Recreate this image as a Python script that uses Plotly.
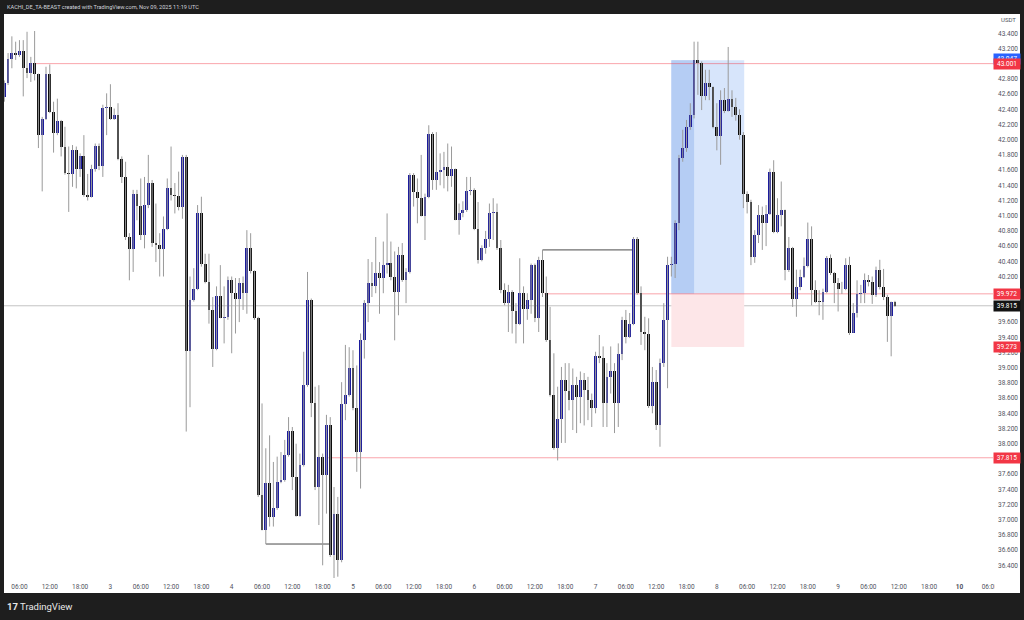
import pandas as pd
import plotly.graph_objects as go

# ---------------- data (45-minute candles, USDT) ----------------
OPEN = [42.56, 42.74, 43.06, 43.14, 43.12, 43.17, 42.94, 42.88, 43.01, 42.87,
        42.06, 42.27, 42.87, 42.37, 42.09, 42.24, 41.91, 41.56, 41.55, 41.87,
        41.62, 41.78, 41.27, 41.25, 41.62, 41.92, 41.65, 42.42, 42.43, 42.27,
        42.32, 41.75, 41.51, 40.72, 40.56, 41.28, 41.13, 40.75, 41.14, 41.43,
        40.64, 40.62, 40.56, 40.83, 41.36, 41.27, 41.26, 41.11, 41.77, 39.22,
        39.89, 40.04, 41.03, 40.37, 40.13, 39.76, 39.25, 39.94, 39.66, 39.67,
        40.16, 39.98, 39.90, 40.11, 39.98, 40.57, 40.27, 39.66, 37.32, 36.87,
        37.48, 37.04, 37.16, 37.50, 37.52, 37.85, 38.17, 37.56, 37.05, 37.72,
        38.77, 39.89, 38.53, 37.43, 37.83, 37.59, 38.24, 36.53, 37.08, 36.47,
        38.52, 38.64, 38.99, 38.47, 37.89, 39.36, 39.85, 40.11, 40.07, 40.25,
        40.18, 40.35, 40.38, 40.20, 39.99, 40.48, 40.15, 40.26, 41.53, 41.31,
        41.23, 41.00, 41.25, 42.08, 41.47, 41.57, 41.60, 41.64, 41.52, 41.61,
        40.95, 41.04, 41.08, 41.32, 41.34, 40.83, 40.42, 40.57, 40.70, 41.03,
        41.05, 40.57, 40.02, 39.85, 40.00, 39.74, 39.58, 39.98, 39.77, 39.89,
        40.35, 39.65, 40.42, 39.98, 39.36, 38.64, 37.94, 38.32, 38.84, 38.70,
        38.57, 38.77, 38.62, 38.84, 38.71, 38.57, 38.47, 39.15, 39.13, 38.54,
        38.88, 38.96, 38.53, 39.18, 39.63, 39.41, 39.58, 40.70, 39.98, 39.47,
        39.45, 38.49, 38.81, 38.25, 39.06, 39.63, 40.35, 40.37, 40.90, 41.76,
        41.89, 42.17, 42.33, 43.05, 43.01, 42.57, 42.75, 42.69, 42.17, 42.05,
        42.52, 42.38, 42.54, 42.43, 42.33, 42.06, 41.29, 41.18, 40.46, 40.75,
        41.01, 40.90, 41.02, 41.57, 40.79, 41.01, 41.07, 40.28, 40.57, 39.91,
        40.06, 40.20, 40.34, 40.69, 40.02, 39.87, 39.86, 40.00, 40.45, 40.24,
        40.11, 40.04, 40.03, 40.35, 39.46, 39.72, 39.97, 39.98, 40.15, 40.13,
        39.96, 40.28, 40.06, 39.93, 39.68, 39.86]
HIGH = [42.78, 43.14, 43.36, 43.29, 43.31, 43.31, 43.42, 43.09, 43.43, 42.87,
        42.30, 42.96, 42.99, 42.50, 42.54, 42.26, 42.17, 41.91, 41.93, 41.91,
        41.82, 42.06, 41.55, 41.67, 41.95, 41.95, 42.46, 42.61, 42.73, 42.41,
        42.48, 41.78, 41.71, 40.77, 41.34, 41.34, 41.49, 41.51, 41.80, 41.47,
        41.16, 40.77, 40.99, 41.49, 41.91, 41.43, 41.58, 41.80, 41.80, 40.20,
        40.31, 41.14, 41.25, 40.50, 40.50, 39.93, 40.07, 40.35, 40.07, 40.20,
        40.20, 40.18, 40.18, 40.20, 40.81, 40.77, 40.28, 39.67, 38.53, 37.94,
        38.11, 37.76, 37.83, 37.89, 38.05, 38.35, 38.22, 38.00, 37.87, 39.21,
        40.26, 39.91, 38.75, 38.77, 37.87, 38.38, 38.35, 37.43, 37.30, 38.81,
        39.30, 39.27, 39.23, 39.03, 39.45, 39.89, 40.43, 40.39, 40.72, 40.39,
        40.66, 41.03, 40.66, 40.53, 40.59, 40.64, 40.31, 41.56, 41.56, 41.49,
        41.80, 41.29, 42.19, 42.10, 42.10, 41.82, 41.84, 41.95, 41.91, 41.62,
        41.16, 41.19, 41.51, 41.51, 41.36, 41.18, 40.61, 40.80, 41.16, 41.23,
        41.16, 40.68, 40.11, 40.09, 40.02, 39.85, 40.44, 40.07, 39.98, 40.37,
        40.37, 40.46, 40.55, 40.20, 39.80, 39.19, 38.75, 39.01, 39.06, 39.06,
        38.99, 38.88, 38.95, 38.93, 38.88, 38.66, 39.21, 39.43, 39.28, 39.06,
        39.28, 39.06, 39.32, 39.67, 39.76, 39.72, 40.72, 40.72, 40.07, 39.67,
        39.65, 39.01, 38.97, 39.12, 39.85, 40.46, 40.46, 40.94, 41.80, 42.13,
        42.26, 42.48, 43.29, 43.29, 43.03, 42.92, 42.92, 42.70, 42.48, 42.65,
        42.68, 43.22, 42.65, 42.55, 42.40, 42.10, 41.32, 41.21, 40.81, 41.14,
        41.12, 41.14, 41.62, 41.73, 41.23, 41.45, 41.08, 40.72, 40.59, 40.29,
        40.29, 40.45, 40.91, 40.86, 40.15, 40.02, 40.04, 40.47, 40.49, 40.26,
        40.18, 40.13, 40.44, 40.46, 39.85, 40.15, 40.09, 40.24, 40.22, 40.20,
        40.33, 40.42, 40.30, 39.96, 39.87, 39.88]
LOW = [42.50, 42.72, 42.94, 43.05, 43.09, 42.57, 42.81, 42.76, 42.78, 41.89,
       41.32, 42.26, 42.35, 41.83, 42.06, 41.78, 41.54, 41.05, 41.38, 41.36,
       41.51, 41.25, 41.20, 41.24, 41.58, 41.60, 41.51, 42.06, 42.26, 42.26,
       41.73, 41.43, 40.68, 40.15, 40.26, 40.94, 40.68, 40.57, 41.10, 40.59,
       40.39, 40.20, 40.20, 40.81, 41.20, 41.03, 41.07, 40.96, 38.16, 38.48,
       39.87, 40.02, 40.33, 40.11, 39.58, 39.01, 39.23, 39.65, 39.32, 39.63,
       39.19, 39.45, 39.60, 39.76, 39.71, 40.24, 39.63, 37.30, 36.86, 36.68,
       36.91, 36.91, 37.13, 37.48, 37.50, 37.83, 37.39, 37.04, 37.04, 37.70,
       38.75, 38.35, 37.39, 36.93, 36.40, 37.08, 36.51, 36.20, 36.25, 36.44,
       38.31, 38.62, 38.44, 37.63, 37.41, 39.12, 39.60, 39.93, 39.98, 39.71,
       39.98, 40.24, 40.15, 39.36, 39.69, 40.13, 39.85, 40.24, 41.12, 40.90,
       40.99, 40.68, 41.23, 41.34, 41.34, 41.40, 41.36, 41.32, 41.38, 40.94,
       40.75, 40.98, 41.05, 41.27, 40.81, 40.37, 40.40, 40.50, 40.59, 40.68,
       40.55, 39.98, 39.82, 39.47, 39.45, 39.32, 39.56, 39.32, 39.63, 39.71,
       39.60, 39.47, 39.93, 39.34, 38.62, 37.92, 37.78, 38.01, 38.01, 38.44,
       38.18, 38.14, 38.27, 38.24, 38.31, 38.22, 38.40, 39.06, 38.22, 38.22,
       38.66, 38.14, 38.22, 39.10, 39.32, 39.39, 39.56, 39.96, 39.30, 39.23,
       38.47, 38.40, 38.18, 37.96, 39.01, 38.73, 40.20, 40.18, 40.81, 41.71,
       41.84, 42.13, 42.28, 42.59, 42.39, 42.52, 42.52, 42.15, 41.86, 41.67,
       42.35, 42.37, 42.30, 42.25, 42.00, 41.10, 41.03, 40.35, 40.38, 40.64,
       40.55, 40.60, 41.01, 40.77, 40.77, 40.86, 40.15, 40.26, 39.80, 39.67,
       40.02, 40.18, 40.32, 39.82, 39.85, 39.69, 39.63, 39.98, 40.22, 39.85,
       39.74, 39.97, 40.02, 39.43, 39.46, 39.66, 39.85, 39.85, 40.07, 39.84,
       39.93, 40.03, 39.89, 39.34, 39.15, 39.80]
CLOSE = [42.74, 43.06, 43.14, 43.12, 43.17, 42.94, 42.88, 43.01, 42.87, 42.06,
         42.27, 42.87, 42.37, 42.09, 42.24, 41.91, 41.56, 41.55, 41.87, 41.62,
         41.78, 41.27, 41.25, 41.62, 41.92, 41.65, 42.42, 42.43, 42.27, 42.32,
         41.75, 41.51, 40.72, 40.56, 41.28, 41.13, 40.75, 41.14, 41.43, 40.64,
         40.62, 40.56, 40.83, 41.36, 41.27, 41.26, 41.11, 41.77, 39.22, 39.89,
         40.04, 41.03, 40.37, 40.13, 39.76, 39.25, 39.94, 39.66, 39.67, 40.16,
         39.98, 39.90, 40.11, 39.98, 40.57, 40.27, 39.66, 37.32, 36.87, 37.48,
         37.04, 37.16, 37.50, 37.52, 37.85, 38.17, 37.56, 37.05, 37.72, 38.77,
         39.89, 38.53, 37.43, 37.83, 37.59, 38.24, 36.53, 37.08, 36.47, 38.52,
         38.64, 38.99, 38.47, 37.89, 39.36, 39.85, 40.11, 40.07, 40.25, 40.18,
         40.35, 40.38, 40.20, 39.99, 40.48, 40.15, 40.26, 41.53, 41.31, 41.23,
         41.00, 41.25, 42.08, 41.47, 41.57, 41.60, 41.64, 41.52, 41.61, 40.95,
         41.04, 41.08, 41.32, 41.34, 40.83, 40.42, 40.57, 40.70, 41.03, 41.05,
         40.57, 40.02, 39.85, 40.00, 39.74, 39.58, 39.98, 39.77, 39.89, 40.35,
         39.65, 40.42, 39.98, 39.36, 38.64, 37.94, 38.32, 38.84, 38.70, 38.57,
         38.77, 38.62, 38.84, 38.71, 38.57, 38.47, 39.15, 39.13, 38.54, 38.88,
         38.96, 38.53, 39.18, 39.63, 39.41, 39.58, 40.70, 39.98, 39.47, 39.45,
         38.49, 38.81, 38.25, 39.06, 39.63, 40.35, 40.37, 40.90, 41.76, 41.89,
         42.17, 42.33, 43.05, 43.01, 42.57, 42.75, 42.69, 42.17, 42.05, 42.52,
         42.38, 42.54, 42.43, 42.33, 42.06, 41.29, 41.18, 40.46, 40.75, 41.01,
         40.90, 41.02, 41.57, 40.79, 41.01, 41.07, 40.28, 40.57, 39.91, 40.06,
         40.20, 40.34, 40.69, 40.02, 39.87, 39.86, 40.00, 40.45, 40.24, 40.11,
         40.04, 40.03, 40.35, 39.46, 39.72, 39.97, 39.98, 40.15, 40.13, 39.96,
         40.28, 40.06, 39.93, 39.68, 39.86, 39.815]

FIRST_CANDLE = "2025-11-02 03:00"
TIMES = pd.date_range(FIRST_CANDLE, periods=len(OPEN), freq="45min")

X_TICK_VALS = ["2025-11-02 06:00", "2025-11-02 12:00", "2025-11-02 18:00",
               "2025-11-03 00:00", "2025-11-03 06:00", "2025-11-03 12:00", "2025-11-03 18:00",
               "2025-11-04 00:00", "2025-11-04 06:00", "2025-11-04 12:00", "2025-11-04 18:00",
               "2025-11-05 00:00", "2025-11-05 06:00", "2025-11-05 12:00", "2025-11-05 18:00",
               "2025-11-06 00:00", "2025-11-06 06:00", "2025-11-06 12:00", "2025-11-06 18:00",
               "2025-11-07 00:00", "2025-11-07 06:00", "2025-11-07 12:00", "2025-11-07 18:00",
               "2025-11-08 00:00", "2025-11-08 06:00", "2025-11-08 12:00", "2025-11-08 18:00",
               "2025-11-09 00:00", "2025-11-09 06:00", "2025-11-09 12:00", "2025-11-09 18:00",
               "2025-11-10 00:00", "2025-11-10 06:00"]
X_TICK_TEXT = ["06:00", "12:00", "18:00",
               "3", "06:00", "12:00", "18:00",
               "4", "06:00", "12:00", "18:00",
               "5", "06:00", "12:00", "18:00",
               "6", "06:00", "12:00", "18:00",
               "7", "06:00", "12:00", "18:00",
               "8", "06:00", "12:00", "18:00",
               "9", "06:00", "12:00", "18:00",
               "<b>10</b>", "06:00"]
Y_TICK_VALS = [36.4, 36.6, 36.8, 37.0, 37.2, 37.4, 37.6, 37.8, 38.0, 38.2, 38.4, 38.6,
               38.8, 39.0, 39.2, 39.4, 39.6, 39.8, 40.0, 40.2, 40.4, 40.6, 40.8, 41.0,
               41.2, 41.4, 41.6, 41.8, 42.0, 42.2, 42.4, 42.6, 42.8, 43.0, 43.2, 43.4]
Y_TICK_TEXT = ["36.400", "36.600", "36.800", "37.000", "37.200", "37.400", "37.600", "37.800",
               "38.000", "38.200", "38.400", "38.600", "38.800", "39.000", "39.200", "39.400",
               "39.600", "39.800", "40.000", "40.200", "40.400", "40.600", "40.800", "41.000",
               "41.200", "41.400", "41.600", "41.800", "42.000", "42.200", "42.400", "42.600",
               "42.800", "43.000", "43.200", "43.400"]

# horizontal levels drawn on the chart (price, first candle index)
LEVEL_PRICES = [43.001, 39.972, 37.815]
LEVEL_START = [8, 143, 86]
LAST_PRICE = 39.815
# long-position tool
POS_TARGET, POS_ENTRY, POS_STOP = 43.047, 39.972, 39.273
POS_START, POS_SPLIT, POS_END = 176, 182, 195
# swing brackets: (price, from candle, to candle)
BRACKETS = [(36.68, 69, 86), (40.55, 142, 166)]

BLUE = "#1c1c9c"
BLACK = "#0a0a0a"
WICK = "#9a9a9a"
RED = "#f23645"
LEVEL_COLOR = "rgba(242,54,69,0.45)"

# ---------------- figure ----------------
fig = go.Figure()

wx, wy = [], []
for t, lo, hi in zip(TIMES, LOW, HIGH):
    wx += [t, t, None]
    wy += [lo, hi, None]
fig.add_trace(go.Scatter(x=wx, y=wy, mode="lines", line=dict(color=WICK, width=1),
                         hoverinfo="skip", showlegend=False))

base = [min(o, c) for o, c in zip(OPEN, CLOSE)]
height = [max(abs(c - o), 0.012) for o, c in zip(OPEN, CLOSE)]
colors = [BLUE if c >= o else BLACK for o, c in zip(OPEN, CLOSE)]
fig.add_trace(go.Bar(x=TIMES, y=height, base=base, marker=dict(color=colors, line=dict(width=0)),
                     width=45 * 60 * 1000 * 0.74, hoverinfo="skip", showlegend=False))

half = pd.Timedelta("22min")
shapes = []
# white canvas behind pane + axes
shapes.append(dict(type="rect", xref="paper", yref="paper", x0=0, x1=1.0273, y0=-0.0266, y1=1,
                   fillcolor="white", line=dict(width=0), layer="below"))
# position tool
shapes.append(dict(type="rect", xref="x", yref="y", x0=TIMES[POS_START], x1=TIMES[POS_END] + pd.Timedelta("10min"),
                   y0=POS_ENTRY, y1=POS_TARGET, fillcolor="#d7e5fb", line=dict(width=0), layer="below"))
shapes.append(dict(type="rect", xref="x", yref="y", x0=TIMES[POS_START], x1=TIMES[POS_SPLIT],
                   y0=POS_ENTRY, y1=POS_TARGET, fillcolor="#b5cdf4", line=dict(width=0), layer="below"))
shapes.append(dict(type="rect", xref="x", yref="y", x0=TIMES[POS_START], x1=TIMES[POS_END] + pd.Timedelta("10min"),
                   y0=POS_STOP, y1=POS_ENTRY, fillcolor="#fde6e8", line=dict(width=0), layer="below"))
# last price line
shapes.append(dict(type="line", xref="paper", yref="y", x0=0, x1=1, y0=LAST_PRICE, y1=LAST_PRICE,
                   line=dict(color="#c4c4c4", width=1), layer="below"))
# levels
for p, s in zip(LEVEL_PRICES, LEVEL_START):
    shapes.append(dict(type="line", xref="x", yref="y", x0=TIMES[s] - half, x1=TIMES[-1] + pd.Timedelta("200h"),
                       y0=p, y1=p, line=dict(color=LEVEL_COLOR, width=1), layer="below"))
for p, a, b in BRACKETS:
    shapes.append(dict(type="line", xref="x", yref="y", x0=TIMES[a], x1=TIMES[b], y0=p, y1=p,
                       line=dict(color="#4a4a4a", width=1), layer="below"))
# time-axis label clipped where the price scale starts
shapes.append(dict(type="rect", xref="paper", yref="paper", x0=1.0015, x1=1.0273, y0=-0.0266, y1=-0.0005,
                   fillcolor="white", line=dict(width=0), layer="above"))

annotations = []
FONT = "Roboto, Arial, sans-serif"
# price-axis labels
PRICE_LABELS = [(43.058, "43.047", "#2962ff"), (43.001, "43.001", RED), (39.972, "39.972", RED),
                (LAST_PRICE, "39.815", "#131313"), (39.273, "39.273", RED), (37.815, "37.815", RED)]
for p, txt, bg in PRICE_LABELS:
    annotations.append(dict(xref="paper", yref="y", x=1, y=p, xanchor="left", yanchor="middle",
                            text=txt, showarrow=False, bgcolor=bg, borderpad=1, width=24,
                            font=dict(color="white", size=6.5, family=FONT)))
annotations.append(dict(xref="paper", yref="paper", x=1, y=0.991, xanchor="left", yanchor="middle", xshift=6,
                        text="USDT", showarrow=False, font=dict(color="#50535e", size=6, family=FONT)))
annotations.append(dict(xref="paper", yref="paper", x=0.001, y=1.0124, xanchor="left", yanchor="middle",
                        text="KACHI_DE_TA-BEAST created with TradingView.com, Nov 09, 2025 11:19 UTC",
                        showarrow=False, font=dict(color="#d1d4dc", size=5.6, family=FONT)))
annotations.append(dict(xref="paper", yref="paper", x=0.001, y=-0.0514, xanchor="left", yanchor="middle",
                        text="<b>17</b> TradingView", showarrow=False,
                        font=dict(color="#e8e8e8", size=9.5, family=FONT)))

fig.update_layout(
    width=1024, height=620,
    margin=dict(l=4, r=31, t=14, b=42),
    paper_bgcolor="#1e1e1e", plot_bgcolor="#ffffff",
    barmode="overlay", bargap=0, showlegend=False,
    shapes=shapes, annotations=annotations,
    xaxis=dict(type="date", range=["2025-11-02 02:56:30", "2025-11-10 06:39"],
               tickvals=X_TICK_VALS, ticktext=X_TICK_TEXT, showgrid=False, zeroline=False,
               showline=False, ticks="", ticklabelstandoff=3,
               tickfont=dict(size=6.5, color="#50535e", family=FONT), fixedrange=True),
    yaxis=dict(side="right", range=[36.233, 43.654], tickvals=Y_TICK_VALS, ticktext=Y_TICK_TEXT,
               showgrid=False, zeroline=False, showline=False, ticks="", ticklabelstandoff=4,
               tickfont=dict(size=6.5, color="#50535e", family=FONT), fixedrange=True),
)

fig.write_html("out.html", config={"displayModeBar": False, "staticPlot": True},
               post_script="document.body.style.margin='0';document.body.style.overflow='hidden';")
